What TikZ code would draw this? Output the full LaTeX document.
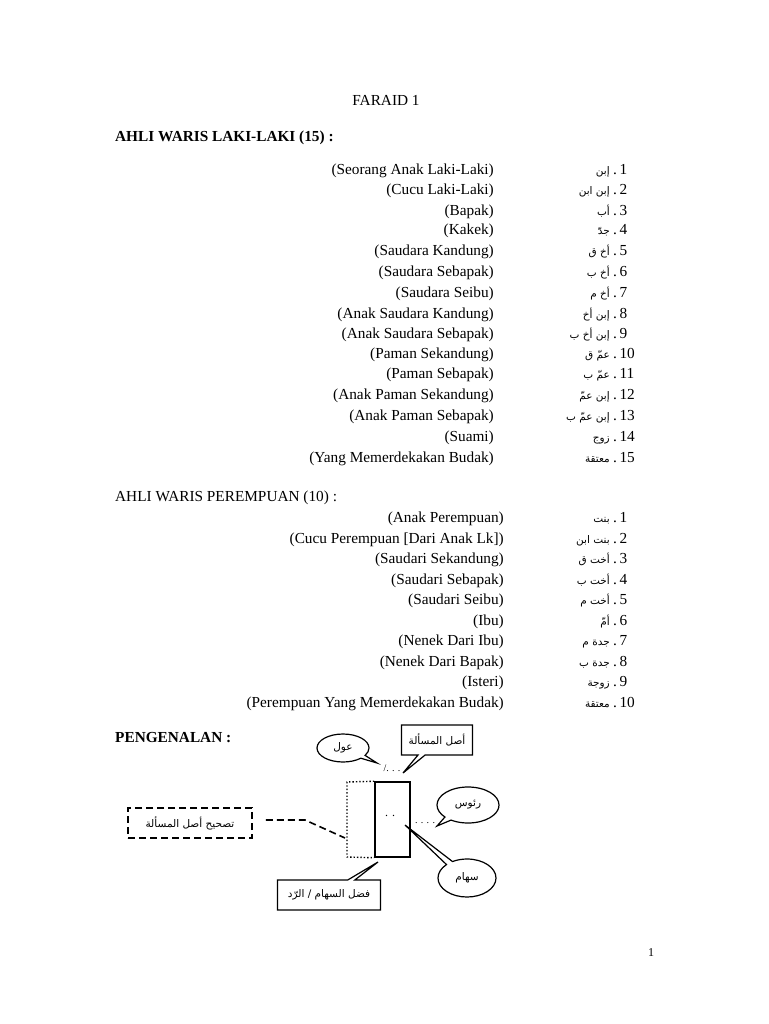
\documentclass[tikz,border=0pt]{standalone}
\usepackage{fontspec}
\setmainfont{Liberation Serif}
\newfontfamily\arabicfont[Script=Arabic]{DejaVu Sans}
\TeXXeTstate=1
\usetikzlibrary{shapes.callouts,shapes.geometric}
\newcommand{\ar}[1]{{\arabicfont\fontsize{10.5}{12}\selectfont\beginR #1\endR}}
\begin{document}
\begin{tikzpicture}[x=1pt,y=-1pt,
  txt/.style={inner sep=0pt,font=\fontsize{15.3}{17}\selectfont},
  lbl/.style={txt,anchor=base east},
  num/.style={txt,anchor=base west},
  arb/.style={inner sep=0pt,anchor=base east},
  dsh/.style={dash pattern=on 7pt off 4pt,line width=1.6pt}]
\useasboundingbox (0,0) rectangle (768,1024);
\node[txt,anchor=base] (title) at (386,106) {FARAID 1};
\node[txt,anchor=base west,font=\fontsize{15.3}{17}\selectfont\bfseries] (h1) at (115,142) {AHLI WARIS LAKI-LAKI (15) :};
\foreach \i/\t/\a [count=\k] in {
 175/(Seorang Anak Laki-Laki)/إبن,
 195/(Cucu Laki-Laki)/إبن ابن,
 215/(Bapak)/أب,
 235/(Kakek)/جدّ,
 255/(Saudara Kandung)/أخ ق,
 276/(Saudara Sebapak)/أخ ب,
 297/(Saudara Seibu)/أخ م,
 318/(Anak Saudara Kandung)/إبن أخ,
 338/(Anak Saudara Sebapak)/إبن أخ ب,
 358/(Paman Sekandung)/عمّ ق,
 378/(Paman Sebapak)/عمّ ب,
 399/(Anak Paman Sekandung)/إبن عمّ,
 420/(Anak Paman Sebapak)/إبن عمّ ب,
 441/(Suami)/زوج,
 462/(Yang Memerdekakan Budak)/معتقة}{
 \node[lbl] (m\k) at (494,\i) {\t};
 \node[arb] (ma\k) at (610,\i) {\ar{\a}};
 \node[num] (mn\k) at (613,\i) {.\,\k};
}
\node[txt,anchor=base west] (h2) at (115,501) {AHLI WARIS PEREMPUAN (10) :};
\foreach \i/\t/\a [count=\k] in {
 522/(Anak Perempuan)/بنت,
 543/(Cucu Perempuan [Dari Anak Lk])/بنت ابن,
 563/(Saudari Sekandung)/أخت ق,
 584/(Saudari Sebapak)/أخت ب,
 604/(Saudari Seibu)/أخت م,
 625/(Ibu)/أمّ,
 645/(Nenek Dari Ibu)/جدة م,
 666/(Nenek Dari Bapak)/جدة ب,
 686/(Isteri)/زوجة,
 707/(Perempuan Yang Memerdekakan Budak)/معتقة}{
 \node[lbl] (f\k) at (504,\i) {\t};
 \node[arb] (fa\k) at (610,\i) {\ar{\a}};
 \node[num] (fn\k) at (613,\i) {.\,\k};
}
\node[txt,anchor=base west,font=\fontsize{15.3}{17}\selectfont\bfseries] (h3) at (115,742) {PENGENALAN :};
% main box
\node[draw,line width=1.5pt,minimum width=35pt,minimum height=75pt,inner sep=0pt] (box) at (392.5,819.5) {};
\coordinate (dl1) at (347,782); \coordinate (dl2) at (347,857);
\draw[dotted,line width=1.4pt] (box.north west) -- (dl1) -- (dl2) -- (box.south west);
\node[inner sep=0pt,font=\large] (dd) at (390,816) {. .};
\node[inner sep=0pt] (topd) at (392,768) {/. . .};
\node[inner sep=0pt] (botd) at (392,857) {. . .};
\node[inner sep=0pt] (rd) at (425,823) {. . . .};
% dashed box
\node[draw,dsh,minimum width=124pt,minimum height=30pt] (tas) at (190,823) {\ar{تصحيح أصل المسألة}};
\coordinate (dk) at (305,820);
\coordinate (de) at (345,838);
\draw[dsh] (tas.east) ++(13,-3) -- (dk) -- (de);
% callouts
\node[draw,ellipse callout,line width=1.2pt,minimum width=52pt,minimum height=28pt,callout absolute pointer={(377,763)}] (awl) at (343,748) {\ar{عول}};
\node[draw,rectangle callout,line width=1.2pt,minimum width=71pt,minimum height=30pt,callout absolute pointer={(403,773)}] (asl) at (437,740) {\ar{أصل المسألة}};
\node[draw,ellipse callout,line width=1.2pt,minimum width=62pt,minimum height=36pt,callout absolute pointer={(437,826)}] (ruus) at (468,805) {\ar{رئوس}};
\node[draw,ellipse callout,line width=1.2pt,minimum width=58pt,minimum height=38pt,callout absolute pointer={(405,825)}] (siham) at (467,878) {\ar{سهام}};
\node[draw,rectangle callout,line width=1.2pt,minimum width=103pt,minimum height=30pt,callout absolute pointer={(378,862)}] (fadl) at (329,895) {\ar{فضل السهام / الرّد}};
\node[inner sep=0pt,font=\fontsize{12}{13}\selectfont] (pg) at (651,953) {1};
\end{tikzpicture}
\end{document}
